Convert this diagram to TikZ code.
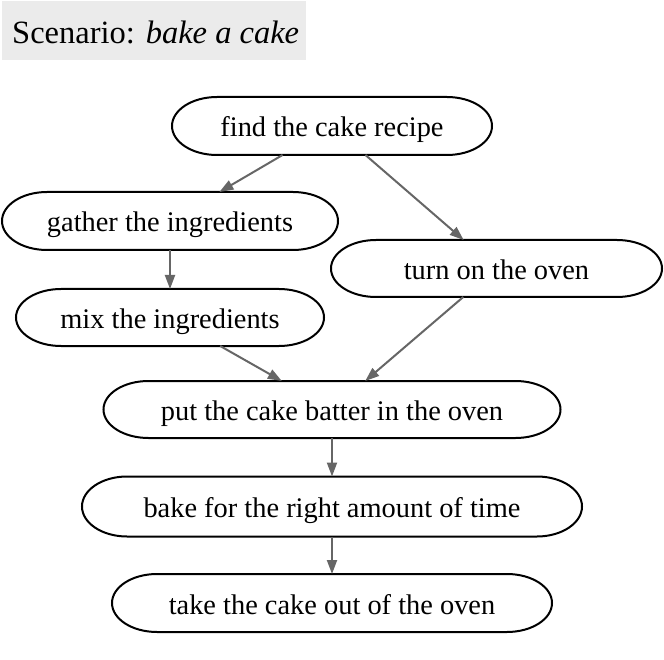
\documentclass[tikz,border=0pt]{standalone}
\usepackage{fontspec}
\setmainfont{Liberation Serif}
\usetikzlibrary{arrows.meta}
\definecolor{edgegray}{RGB}{102,102,102}
\definecolor{titlegray}{RGB}{235,235,235}
\tikzset{
  stepnode/.style={inner sep=0pt, outer sep=0pt, minimum height=58pt,
    text height=25pt, text depth=3pt,
    font=\fontsize{28.4}{34}\selectfont},
  outl/.style={draw=black, line width=2pt},
  flow/.style={draw=edgegray, line width=2pt, -{Triangle[length=14pt,width=10pt]}},
}
\newcommand\stadshape[2]{%
  \draw[outl] ([xshift=45pt]#1.north west) -- ([xshift=-45pt]#1.north east)
    arc[start angle=90,end angle=-90,x radius=45pt,y radius=#2pt]
    -- ([xshift=45pt]#1.south west)
    arc[start angle=270,end angle=90,x radius=45pt,y radius=#2pt] -- cycle;}
\begin{document}
\begin{tikzpicture}[x=1pt,y=1pt]
\useasboundingbox (0,0) rectangle (664,-660);
\fill[titlegray] (2,-1) rectangle (306,-60);
\node[anchor=west, inner sep=0pt, font=\fontsize{32.5}{38}\selectfont] (title) at (12,-32) {Scenario: \textit{bake a cake}};

\node[stepnode, minimum width=320pt] (find) at (332,-126) {find the cake recipe};
\node[stepnode, minimum width=336pt] (gather) at (170,-221) {gather the ingredients};
\node[stepnode, minimum width=331pt, minimum height=57pt] (turn) at (496.5,-268.5) {turn on the oven};
\node[stepnode, minimum width=308pt, minimum height=57pt] (mix) at (170,-317.5) {mix the ingredients};
\node[stepnode, minimum width=457pt, minimum height=57pt] (put) at (332,-409.5) {put the cake batter in the oven};
\node[stepnode, minimum width=500pt, minimum height=60pt] (bake) at (332,-506.5) {bake for the right amount of time};
\node[stepnode, minimum width=440pt] (take) at (332,-603) {take the cake out of the oven};

\stadshape{find}{29}
\stadshape{gather}{29}
\stadshape{turn}{28.5}
\stadshape{mix}{28.5}
\stadshape{put}{28.5}
\stadshape{bake}{30}
\stadshape{take}{29}

\draw[flow] (find) -- (gather);
\draw[flow] (find) -- (turn);
\draw[flow] (gather) -- (mix);
\draw[flow] (mix) -- (put);
\draw[flow] (turn) -- (put);
\draw[flow] (put) -- (bake);
\draw[flow] (bake) -- (take);
\end{tikzpicture}
\end{document}
